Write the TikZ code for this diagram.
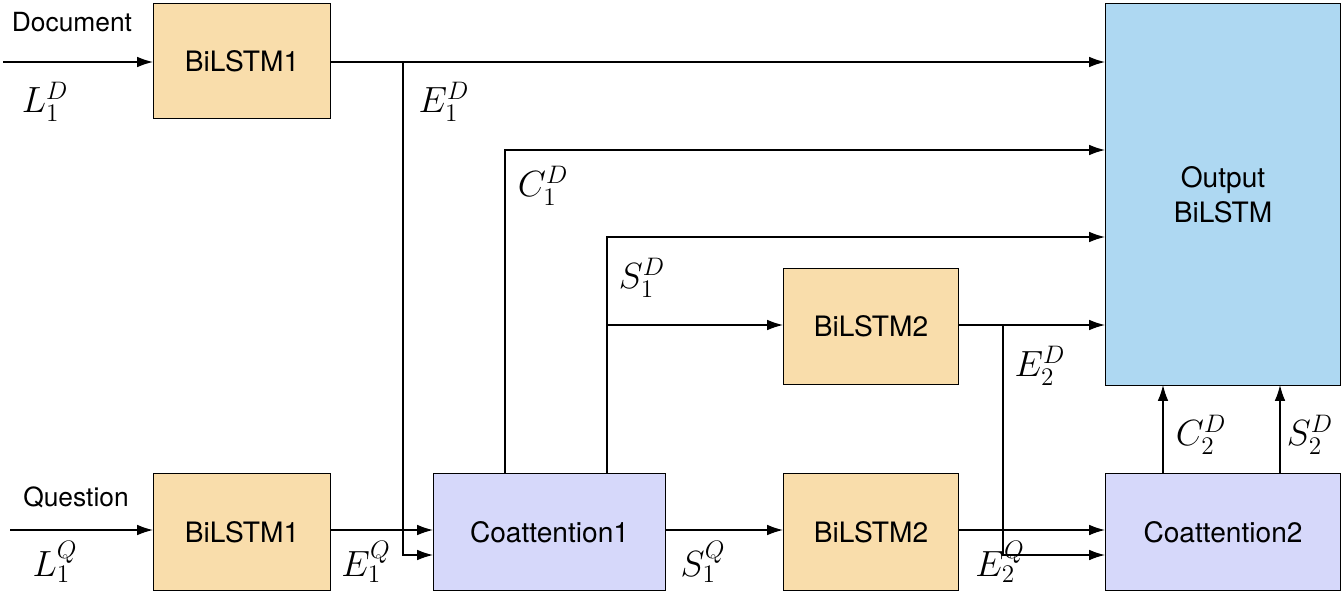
\documentclass[tikz,border=0pt]{standalone}
\usepackage{fontspec}
\setmainfont{TeX Gyre Heros}
\usetikzlibrary{arrows.meta}
\definecolor{lstmc}{HTML}{F9DDAB}
\definecolor{coatc}{HTML}{D6D8FA}
\definecolor{outc}{HTML}{AED8F2}
\begin{document}
\begin{tikzpicture}[x=0.02cm,y=-0.02cm,
  box/.style={draw,line width=0.6pt,anchor=north west,inner sep=0pt,font=\fontsize{16}{20}\selectfont,align=center},
  lstm/.style={box,fill=lstmc},
  coat/.style={box,fill=coatc},
  outb/.style={box,fill=outc},
  arr/.style={-{Latex[length=9pt,width=6pt]},line width=0.7pt},
  lbl/.style={font=\fontsize{22}{24}\selectfont},
  txt/.style={font=\fontsize{15}{20}\selectfont}]
\useasboundingbox (0,0) rectangle (1342,592);
\node[lstm,minimum width=177*0.02cm,minimum height=115*0.02cm] (b1d) at (153,3) {BiLSTM1};
\node[outb,minimum width=235*0.02cm,minimum height=382*0.02cm] (out) at (1105,3) {Output\\BiLSTM};
\node[lstm,minimum width=175*0.02cm,minimum height=116*0.02cm] (b2d) at (783,268) {BiLSTM2};
\node[lstm,minimum width=177*0.02cm,minimum height=117*0.02cm] (b1q) at (153,473) {BiLSTM1};
\node[coat,minimum width=232*0.02cm,minimum height=117*0.02cm] (c1) at (433,473) {Coattention1};
\node[lstm,minimum width=175*0.02cm,minimum height=117*0.02cm] (b2q) at (783,473) {BiLSTM2};
\node[coat,minimum width=235*0.02cm,minimum height=117*0.02cm] (c2) at (1105,473) {Coattention2};
\coordinate (din) at (3,62);
\coordinate (qin) at (10,530);
% inputs
\draw[arr] (din) -- (din -| b1d.west);
\draw[arr] (qin) -- (qin -| b1q.west);
\node[txt] at (72,22) {Document};
\node[txt] at (76,497) {Question};
\node[lbl] at (45,102) {$L_1^D$};
\node[lbl] at (55,562) {$L_1^Q$};
% document encoding
\draw[arr] (b1d.east |- din) -- (out.west |- din);
\draw[arr] (403,62) -- (403,555) -- (c1.west |- 0,555);
\node[lbl] at (444,102) {$E_1^D$};
% coattention1 outputs
\draw[arr] (505,473) -- (505,150) -- (out.west |- 0,150);
\node[lbl] at (543,186) {$C_1^D$};
\draw[arr] (607,473) -- (607,237) -- (out.west |- 0,237);
\draw[arr] (607,325) -- (b2d.west |- 0,325);
\node[lbl] at (642,278) {$S_1^D$};
% BiLSTM2 doc
\draw[arr] (b2d.east |- 0,325) -- (out.west |- 0,325);
\draw[arr] (1003,325) -- (1003,555) -- (c2.west |- 0,555);
\node[lbl] at (1040,366) {$E_2^D$};
% question chain
\draw[arr] (b1q.east |- 0,530) -- (c1.west |- 0,530);
\node[lbl] at (366,562) {$E_1^Q$};
\draw[arr] (c1.east |- 0,530) -- (b2q.west |- 0,530);
\node[lbl] at (703,562) {$S_1^Q$};
\draw[arr] (b2q.east |- 0,530) -- (c2.west |- 0,530);
\node[lbl] at (1000,562) {$E_2^Q$};
% coattention2 outputs
\draw[arr] (1163,473) -- (1163,385);
\node[lbl] at (1201,435) {$C_2^D$};
\draw[arr] (1280,473) -- (1280,385);
\node[lbl] at (1310,435) {$S_2^D$};
\end{tikzpicture}
\end{document}
